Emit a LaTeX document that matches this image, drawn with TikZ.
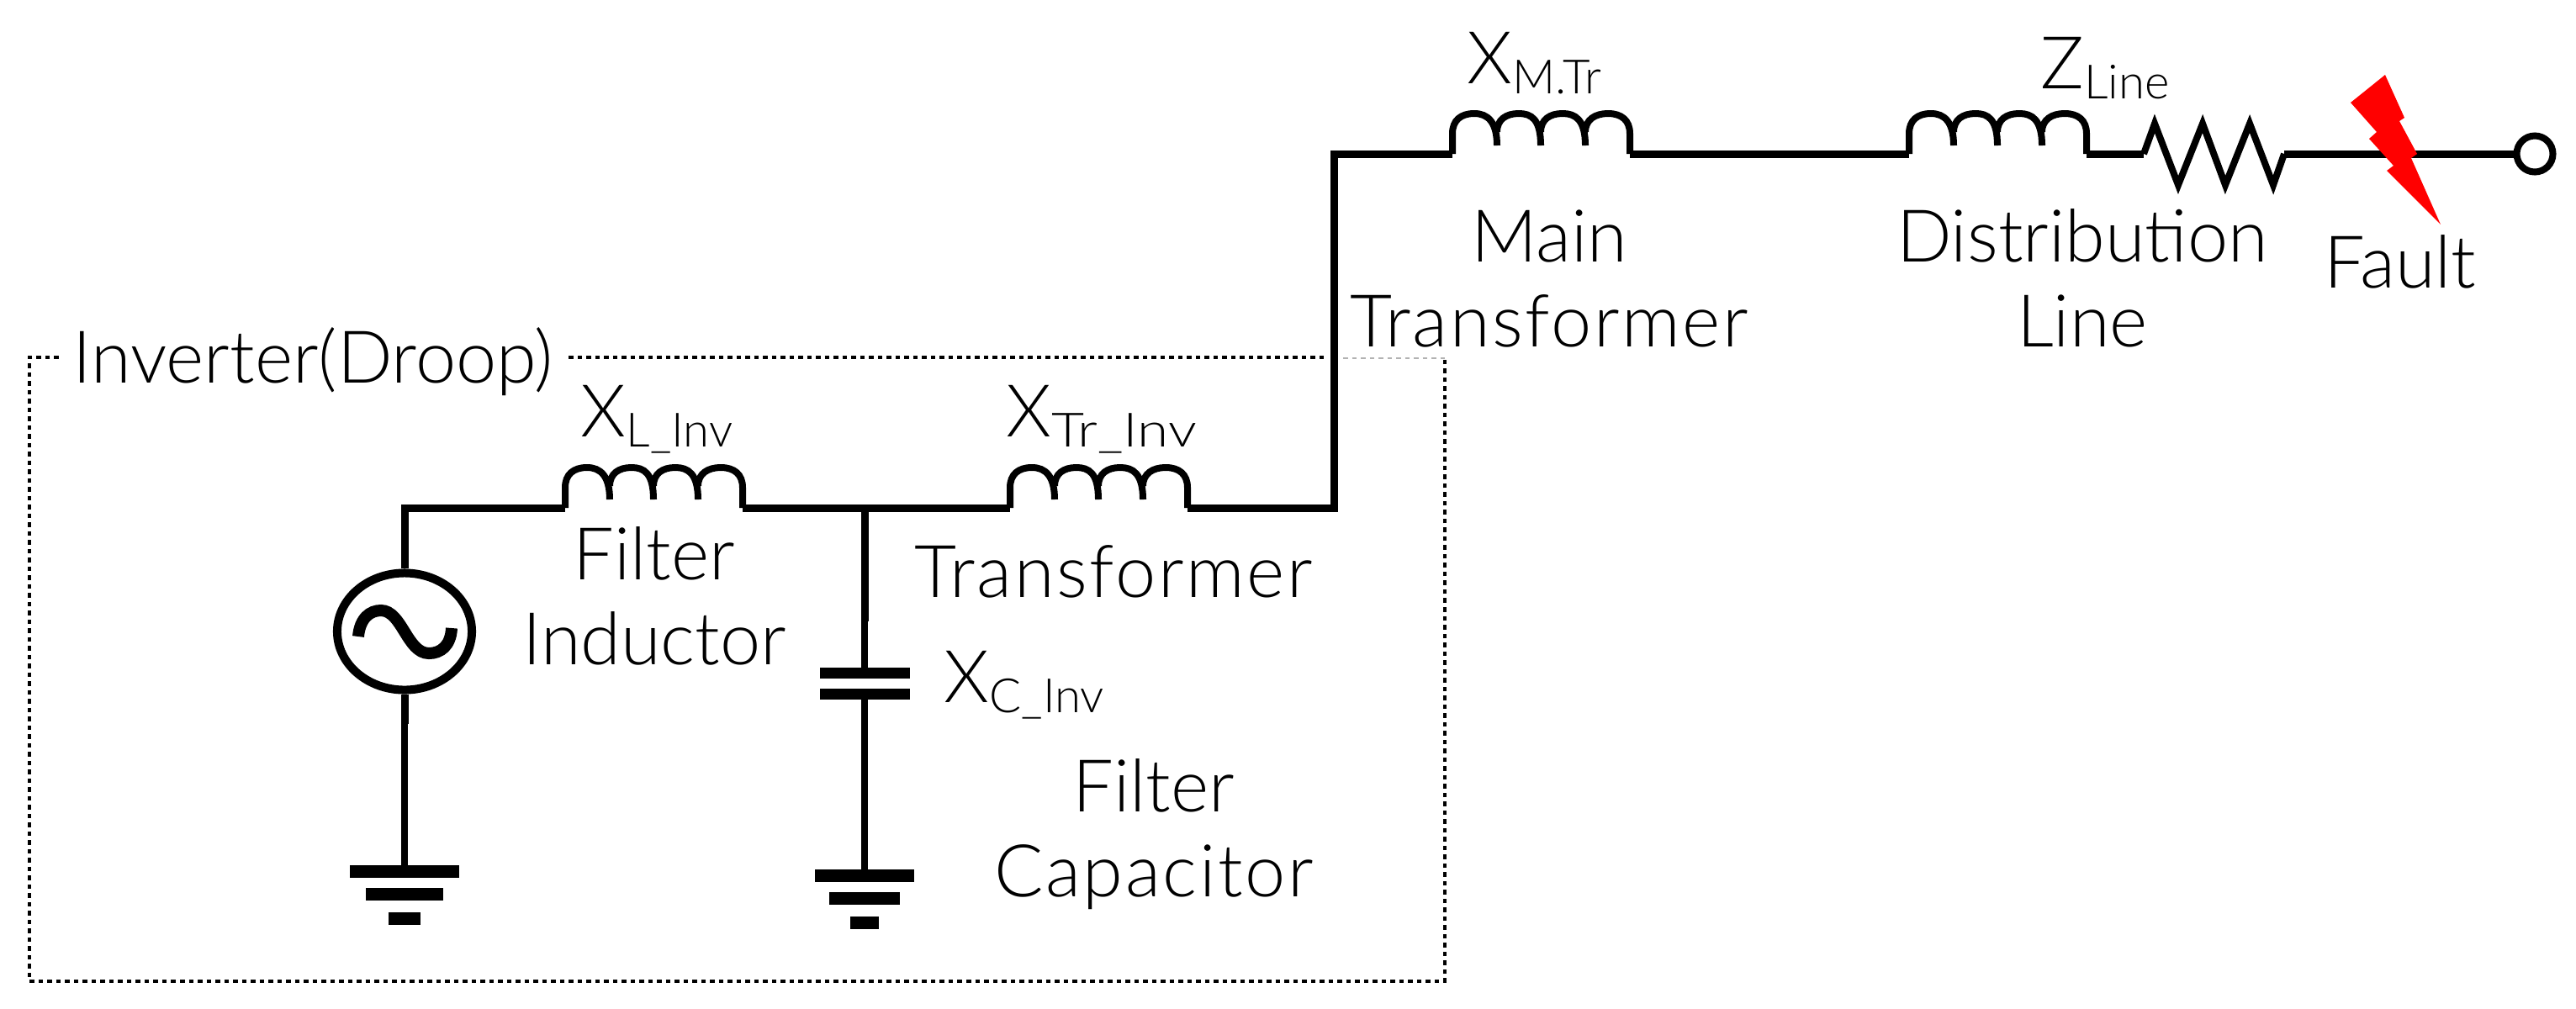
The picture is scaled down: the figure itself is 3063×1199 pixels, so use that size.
\documentclass[tikz,border=0pt]{standalone}
\usepackage{fontspec}
\setmainfont{Lato}[UprightFont={* Light}]
\usetikzlibrary{shapes.geometric}

% one unit is one pixel of the reference, y runs downwards
\tikzset{
	x=0.01cm, y=-0.01cm,
	wire/.style={line width=0.09cm},
	thin wire/.style={line width=0.08cm},
	plate/.style={line width=0.13cm},
	bar/.style={line width=0.15cm},
	dotted box/.style={line width=0.04cm, dash pattern=on 0.055cm off 0.05cm},
	lab/.style={font=\fontsize{24.6}{28.45}\selectfont, inner sep=0, align=center, anchor=base},
	sym/.style={font=\fontsize{24.6}{28}\selectfont, inner sep=0, anchor=base west},
	pics/coil/.style={code={
		\coordinate (-in) at (0,0);
		\coordinate (-out) at (211,0);
		\draw[thin wire] (0,0) -- (0,-24) .. controls (0,-40) and (10,-48) .. (26,-48) .. controls (42,-48) and (53,-38) .. (53,-10);
		\draw[thin wire] (53,-26) .. controls (53,-41) and (64,-48) .. (79,-48) .. controls (94,-48) and (105,-41) .. (105,-10);
		\draw[thin wire] (105,-26) .. controls (105,-41) and (116,-48) .. (131,-48) .. controls (146,-48) and (158,-41) .. (158,-10);
		\draw[thin wire] (158,-26) .. controls (158,-41) and (170,-48) .. (185,-48) .. controls (201,-48) and (211,-40) .. (211,-24) -- (211,0);
	}},
	pics/earth/.style n args={3}{code={
		\draw[bar] (-#1,0) -- (#1,0);
		\draw[bar] (-#2,27) -- (#2,27);
		\draw[bar] (-#3,56) -- (#3,56);
	}},
}
\newcommand{\subbed}[2]{#1\raisebox{-3.6pt}{\fontsize{16}{16}\selectfont #2}}
\newcommand{\wide}[1]{{\addfontfeatures{LetterSpace=3}#1}}

\begin{document}
\begin{tikzpicture}
	\useasboundingbox (0,0) rectangle (3063,1199);

	% inverter box
	\draw[dotted box] (70,425) -- (35,425) -- (35,1167) -- (1718,1167) -- (1718,426);
	\draw[dotted box] (676,425) -- (1579,425);
	\draw[dotted box, gray!60, line width=0.025cm] (1597,426) -- (1718,426);

	% inductors
	\pic (c1) at (672,604) {coil};
	\pic (c2) at (1201,604) {coil};
	\pic (c3) at (1727,183) {coil};
	\pic (c4) at (2270,183) {coil};

	% source
	\node[ellipse, draw, line width=0.1cm, minimum width=1.6cm, minimum height=1.39cm, inner sep=0] (src) at (481,751) {};
	\draw[line width=0.14cm] (426,757) .. controls (428,735) and (440,726) .. (453,726) .. controls (478,726) and (484,777) .. (510,777) .. controls (524,777) and (536,768) .. (537,747);

	% open end of the line
	\node[circle, draw, line width=0.08cm, fill=white, minimum size=0.43cm, inner sep=0] (term) at (3014,183) {};

	% named points
	\coordinate (srcb) at (481,861);
	\coordinate (g1) at (481,1036);
	\coordinate (tee) at (1028,604);
	\coordinate (capa) at (1028,739);
	\coordinate (p1) at (1028,800);
	\coordinate (p2) at (1028,825);
	\coordinate (capb) at (1028,883);
	\coordinate (g2) at (1028,1041);
	\coordinate (rise) at (1586,604);
	\coordinate (rtop) at (1586,183);
	\coordinate (r1) at (2549,183);
	\coordinate (r2) at (2716,183);

	% wires
	\draw[wire] (src.north) |- (c1-in);
	\draw[wire] (c1-out) -- (c2-in);
	\draw[wire] (c2-out) -- (rise) -- (rtop) -- (c3-in);
	\draw[wire] (c3-out) -- (c4-in);
	\draw[wire] (c4-out) -- (r1);
	\draw[wire] (r2) -- (term.west);
	\draw[wire] (src.south) -- (srcb);
	\draw[thin wire] (srcb) -- (g1);
	\draw[wire] (tee) -- (capa);
	\draw[thin wire] (capa) -- (p1);
	\draw[thin wire] (p2) -- (capb) -- (g2);

	% resistor
	\draw[thin wire, line join=miter] (r1) -- (2562,147) -- (2590,220) -- (2619,147) -- (2646,220) -- (2675,147) -- (2703,220) -- (r2);

	% capacitor
	\draw[plate] (975,800) -- (1082,800);
	\draw[plate] (975,825) -- (1082,825);

	% grounds
	\pic at (g1) {earth={65}{46}{19}};
	\pic at (g2) {earth={59}{42}{17}};

	% fault
	\fill[red] (2836,89) -- (2859,140) -- (2853,144) -- (2874,183) -- (2867,188) -- (2902,267) -- (2838,203) -- (2846,197) -- (2817,165) -- (2826,157) -- (2795,122) -- cycle;

	% labels
	\node[sym] (tinv) at (86,455) {Inverter(Droop)};
	\node[sym] (xl) at (690,519) {\subbed{X}{L\_Inv}};
	\node[sym] (xt) at (1196,519) {\subbed{X}{\scalebox{1.2}[1]{Tr\_Inv}}};
	\node[sym] (xc) at (1122,835) {\subbed{X}{C\_Inv}};
	\node[sym] (xm) at (1744,99) {\subbed{X}{M.Tr}};
	\node[sym] (zl) at (2426,105) {\subbed{Z}{Line}};
	\node[lab] (tfi) at (778,790) {Filter\\Inductor};
	\node[lab] (ttr) at (1324,710) {\wide{Transformer}};
	\node[lab] (tfc) at (1372,1066) {Filter\\\wide{Capacitor}};
	\node[lab] (tmt) at (1842,412) {Main\\\wide{Transformer}};
	\node[lab] (tdl) at (2476,412) {Distribution\\Line};
	\node[lab] (tfa) at (2854,342) {Fault};
\end{tikzpicture}
\end{document}
